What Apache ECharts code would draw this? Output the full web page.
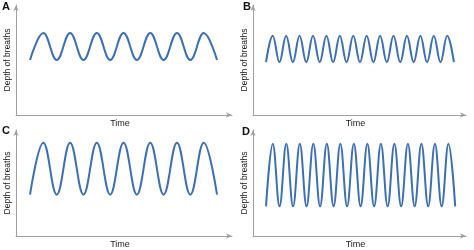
<!DOCTYPE html>
<html>
<head>
<meta charset="utf-8">
<script src="https://cdn.jsdelivr.net/npm/echarts@6/dist/echarts.min.js"></script>
<style>
html,body{margin:0;padding:0;background:#fff;}
#chart{width:474px;height:250px;}
</style>
</head>
<body>
<div id="chart"></div>
<script>
// Panel letters and axis names
const panelLabels = ['A', 'B', 'C', 'D'];
const xAxisName = 'Time';
const yAxisName = 'Depth of breaths';

// Time (in half-breath steps) and depth of breaths
const timeA = [0,1,2,3,4,5,6,7,8,9,10,11,12,13,14];
const depthA = [5.0,7.45,5.0,7.45,5.0,7.45,5.0,7.45,5.0,7.45,5.0,7.45,5.0,7.45,5.0];

const timeB = [0,1,2,3,4,5,6,7,8,9,10,11,12,13,14,15,16,17,18,19,20,21,22,23,24,25,26,27,28];
const depthB = [4.8,7.2,4.8,7.2,4.8,7.2,4.8,7.2,4.8,7.2,4.8,7.2,4.8,7.2,4.8,7.2,4.8,7.2,4.8,7.2,4.8,7.2,4.8,7.2,4.8,7.2,4.8,7.2,4.8];

const timeC = [0,1,2,3,4,5,6,7,8,9,10,11,12,13,14];
const depthC = [3.9,8.8,3.9,8.8,3.9,8.8,3.9,8.8,3.9,8.8,3.9,8.8,3.9,8.8,3.9];

const timeD = [0,1,2,3,4,5,6,7,8,9,10,11,12,13,14,15,16,17,18,19,20,21,22,23,24,25,26,27,28];
const depthD = [2.8,8.7,2.8,8.7,2.8,8.7,2.8,8.7,2.8,8.7,2.8,8.7,2.8,8.7,2.8,8.7,2.8,8.7,2.8,8.7,2.8,8.7,2.8,8.7,2.8,8.7,2.8,8.7,2.8];

const panels = [
  {t: timeA, d: depthA, grid: {left: 16, top: 5, width: 216, height: 110}, xmin: -1.05, xmax: 15.12},
  {t: timeB, d: depthB, grid: {left: 253, top: 5, width: 213, height: 110}, xmin: -1.94, xmax: 29.8},
  {t: timeC, d: depthC, grid: {left: 16, top: 130, width: 216, height: 108}, xmin: -1.05, xmax: 15.12},
  {t: timeD, d: depthD, grid: {left: 253, top: 130, width: 213, height: 108}, xmin: -1.93, xmax: 29.6}
];
const labelPos = [
  {left: 2, top: 1}, {left: 243, top: 1}, {left: 2, top: 125}, {left: 242, top: 126}
];

const axisLineStyle = {
  show: true,
  onZero: false,
  symbol: ['none', 'arrow'],
  symbolSize: [4, 6],
  lineStyle: {color: '#a0a0a0', width: 1}
};

const option = {
  backgroundColor: '#fff',
  animation: false,
  title: panelLabels.map((l, i) => ({
    text: l, left: labelPos[i].left, top: labelPos[i].top, padding: 0,
    textStyle: {fontFamily: 'Liberation Sans', fontWeight: 'bold', fontSize: 11, color: '#111'}
  })),
  grid: panels.map(p => p.grid),
  xAxis: panels.map((p, i) => ({
    type: 'value', gridIndex: i, min: p.xmin, max: p.xmax,
    name: xAxisName, nameLocation: 'middle', nameGap: 4,
    nameTextStyle: {fontFamily: 'Liberation Sans', fontSize: 9, color: '#1a1a1a', padding: [0, 8, 0, 0], verticalAlign: 'top'},
    axisLine: axisLineStyle, axisTick: {show: false}, axisLabel: {show: false}, splitLine: {show: false}
  })),
  yAxis: panels.map((p, i) => ({
    type: 'value', gridIndex: i, min: 0, max: 10,
    name: yAxisName, nameLocation: 'middle', nameGap: 4, nameRotate: 90,
    nameTextStyle: {fontFamily: 'Liberation Sans', fontSize: 8.5, color: '#1a1a1a'},
    axisLine: axisLineStyle, axisTick: {show: false}, axisLabel: {show: false}, splitLine: {show: false}
  })),
  series: panels.map((p, i) => ({
    type: 'line', xAxisIndex: i, yAxisIndex: i,
    data: p.t.map((t, k) => [t, p.d[k]]),
    smooth: 0.4, showSymbol: false, symbol: 'none',
    lineStyle: {color: '#3d6fb3', width: 2}
  }))
};

const chart = echarts.init(document.getElementById('chart'), null, {renderer: 'canvas'});
chart.setOption(option);
</script>
</body>
</html>
